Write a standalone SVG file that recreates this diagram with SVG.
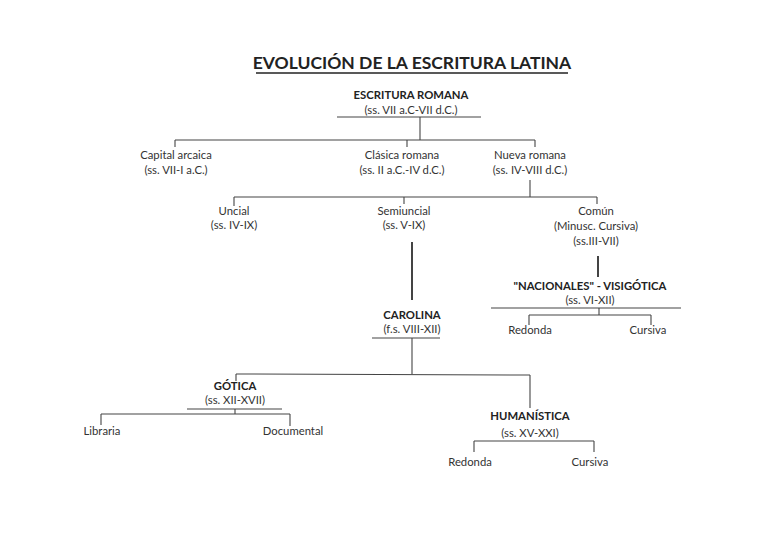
<svg xmlns="http://www.w3.org/2000/svg" width="768" height="543" viewBox="0 0 768 543">
<style>
text{font-family:Lato,"Noto Sans",sans-serif;font-size:11.3px;fill:#333;text-anchor:middle}
.b{font-weight:bold;fill:#222}
.t{font-size:17.5px;font-weight:bold;fill:#222}
line{stroke:#444;stroke-width:1.1}
.k{stroke-width:2}
</style>
<rect width="768" height="543" fill="#fff"/>
<g id="title"><text class="t" x="412" y="69">EVOLUCIÓN DE LA ESCRITURA LATINA</text><line x1="256" y1="73" x2="568" y2="73" style="stroke:#222;stroke-width:1.3"/></g>
<g id="connectors">
<line x1="337" y1="117" x2="481" y2="117"/><line x1="420" y1="117" x2="420" y2="140"/>
<line x1="175" y1="140" x2="535" y2="140"/><line x1="175" y1="140" x2="175" y2="147"/><line x1="407" y1="140" x2="407" y2="147"/><line x1="535" y1="140" x2="535" y2="147"/>
<line x1="530" y1="180" x2="530" y2="197"/>
<line x1="234" y1="197" x2="597" y2="197"/><line x1="234" y1="197" x2="234" y2="206"/><line x1="404" y1="197" x2="404" y2="204"/><line x1="597" y1="197" x2="597" y2="204"/>
<line class="k" x1="412" y1="242" x2="412" y2="300"/>
<line class="k" x1="598" y1="256" x2="598" y2="277"/>
<line x1="491" y1="308" x2="681" y2="308"/><line x1="599" y1="308" x2="599" y2="315"/>
<line x1="529" y1="315" x2="651" y2="315"/><line x1="529" y1="315" x2="529" y2="325"/><line x1="651" y1="315" x2="651" y2="325"/>
<line x1="372" y1="338" x2="440" y2="338"/><line x1="412" y1="338" x2="412" y2="374"/>
<line x1="236" y1="374" x2="530" y2="375"/><line x1="236" y1="374" x2="236" y2="381"/><line x1="530" y1="375" x2="530" y2="408"/>
<line x1="187" y1="409" x2="282" y2="409"/><line x1="235" y1="409" x2="235" y2="414"/>
<line x1="101" y1="414" x2="290" y2="414"/><line x1="101" y1="414" x2="101" y2="425"/><line x1="290" y1="414" x2="290" y2="426"/>
<line x1="474" y1="441" x2="594" y2="441"/><line x1="474" y1="441" x2="474" y2="452"/><line x1="594" y1="441" x2="594" y2="452"/>
</g>
<g id="romana"><text class="b" x="411" y="99">ESCRITURA ROMANA</text><text x="411" y="114">(ss. VII a.C-VII d.C.)</text></g>
<g id="capital"><text x="176" y="159">Capital arcaica</text><text x="176" y="174">(ss. VII-I a.C.)</text></g>
<g id="clasica"><text x="402" y="159">Clásica romana</text><text x="402" y="174">(ss. II a.C.-IV d.C.)</text></g>
<g id="nueva"><text x="530" y="159">Nueva romana</text><text x="530" y="174">(ss. IV-VIII d.C.)</text></g>
<g id="uncial"><text x="234" y="215">Uncial</text><text x="234" y="229">(ss. IV-IX)</text></g>
<g id="semiuncial"><text x="404" y="215">Semiuncial</text><text x="404" y="229">(ss. V-IX)</text></g>
<g id="comun"><text x="596" y="215">Común</text><text x="596" y="230">(Minusc. Cursiva)</text><text x="596" y="245">(ss.III-VII)</text></g>
<g id="nacionales"><text class="b" x="590" y="290">"NACIONALES" - VISIGÓTICA</text><text x="590" y="304">(ss. VI-XII)</text></g>
<g id="vredonda"><text x="530" y="334">Redonda</text></g>
<g id="vcursiva"><text x="648" y="334">Cursiva</text></g>
<g id="carolina"><text class="b" x="412" y="319">CAROLINA</text><text x="412" y="333">(f.s. VIII-XII)</text></g>
<g id="gotica"><text class="b" x="235" y="390">GÓTICA</text><text x="235" y="404">(ss. XII-XVII)</text></g>
<g id="libraria"><text x="102" y="435">Libraria</text></g>
<g id="documental"><text x="293" y="435">Documental</text></g>
<g id="humanistica"><text class="b" x="530" y="420">HUMANÍSTICA</text><text x="530" y="437">(ss. XV-XXI)</text></g>
<g id="hredonda"><text x="470" y="466">Redonda</text></g>
<g id="hcursiva"><text x="590" y="466">Cursiva</text></g>
</svg>
